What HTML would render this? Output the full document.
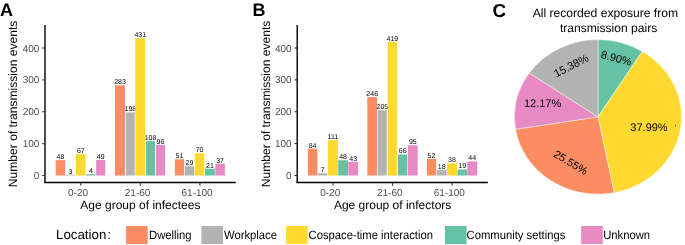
<!DOCTYPE html>
<html><head><meta charset="utf-8"><style>
html,body{margin:0;padding:0;background:#fff;}
body{width:685px;height:245px;overflow:hidden;}
svg{display:block;}
text{font-family:"Liberation Sans", sans-serif;text-rendering:geometricPrecision;}
svg{will-change:transform;}
</style></head><body>
<svg width="685" height="245" viewBox="0 0 685 245">
<rect width="685" height="245" fill="#fff"/>
<rect x="55.70" y="160.20" width="9.40" height="15.30" fill="#FC8D62"/>
<text x="60.40" y="159.20" font-size="7" text-anchor="middle" fill="#000" font-weight="normal" >48</text>
<rect x="65.90" y="174.54" width="9.30" height="0.96" fill="#B3B3B3"/>
<text x="70.55" y="173.54" font-size="7" text-anchor="middle" fill="#000" font-weight="normal" >3</text>
<rect x="76.00" y="154.14" width="9.60" height="21.36" fill="#FFD92F"/>
<text x="80.80" y="153.14" font-size="7" text-anchor="middle" fill="#000" font-weight="normal" >67</text>
<rect x="86.00" y="174.22" width="9.80" height="1.28" fill="#66C2A5"/>
<text x="90.90" y="173.22" font-size="7" text-anchor="middle" fill="#000" font-weight="normal" >4</text>
<rect x="96.20" y="159.88" width="9.10" height="15.62" fill="#E78AC3"/>
<text x="100.75" y="158.88" font-size="7" text-anchor="middle" fill="#000" font-weight="normal" >49</text>
<rect x="115.00" y="85.29" width="9.95" height="90.21" fill="#FC8D62"/>
<text x="119.97" y="84.29" font-size="7" text-anchor="middle" fill="#000" font-weight="normal" >283</text>
<rect x="126.00" y="112.39" width="8.70" height="63.11" fill="#B3B3B3"/>
<text x="130.35" y="111.39" font-size="7" text-anchor="middle" fill="#000" font-weight="normal" >198</text>
<rect x="135.30" y="38.12" width="9.90" height="137.38" fill="#FFD92F"/>
<text x="140.25" y="37.12" font-size="7" text-anchor="middle" fill="#000" font-weight="normal" >431</text>
<rect x="146.00" y="141.07" width="9.00" height="34.43" fill="#66C2A5"/>
<text x="150.50" y="140.07" font-size="7" text-anchor="middle" fill="#000" font-weight="normal" >108</text>
<rect x="155.90" y="144.90" width="9.20" height="30.60" fill="#E78AC3"/>
<text x="160.50" y="143.90" font-size="7" text-anchor="middle" fill="#000" font-weight="normal" >96</text>
<rect x="174.85" y="159.24" width="9.20" height="16.26" fill="#FC8D62"/>
<text x="179.45" y="158.24" font-size="7" text-anchor="middle" fill="#000" font-weight="normal" >51</text>
<rect x="184.80" y="166.26" width="9.30" height="9.24" fill="#B3B3B3"/>
<text x="189.45" y="165.26" font-size="7" text-anchor="middle" fill="#000" font-weight="normal" >29</text>
<rect x="194.80" y="153.19" width="9.50" height="22.31" fill="#FFD92F"/>
<text x="199.55" y="152.19" font-size="7" text-anchor="middle" fill="#000" font-weight="normal" >70</text>
<rect x="205.00" y="168.81" width="9.90" height="6.69" fill="#66C2A5"/>
<text x="209.95" y="167.81" font-size="7" text-anchor="middle" fill="#000" font-weight="normal" >21</text>
<rect x="215.30" y="163.71" width="9.60" height="11.79" fill="#E78AC3"/>
<text x="220.10" y="162.71" font-size="7" text-anchor="middle" fill="#000" font-weight="normal" >37</text>
<line x1="45.00" y1="25.00" x2="45.00" y2="183.10" stroke="#000" stroke-width="1.4"/>
<line x1="44.30" y1="182.50" x2="235.70" y2="182.50" stroke="#000" stroke-width="1.5"/>
<line x1="42.20" y1="175.50" x2="45.00" y2="175.50" stroke="#333" stroke-width="1.07"/>
<text x="39.40" y="179.10" font-size="10" text-anchor="end" fill="#4D4D4D" font-weight="normal" >0</text>
<line x1="42.20" y1="143.62" x2="45.00" y2="143.62" stroke="#333" stroke-width="1.07"/>
<text x="39.40" y="147.22" font-size="10" text-anchor="end" fill="#4D4D4D" font-weight="normal" >100</text>
<line x1="42.20" y1="111.75" x2="45.00" y2="111.75" stroke="#333" stroke-width="1.07"/>
<text x="39.40" y="115.35" font-size="10" text-anchor="end" fill="#4D4D4D" font-weight="normal" >200</text>
<line x1="42.20" y1="79.88" x2="45.00" y2="79.88" stroke="#333" stroke-width="1.07"/>
<text x="39.40" y="83.47" font-size="10" text-anchor="end" fill="#4D4D4D" font-weight="normal" >300</text>
<line x1="42.20" y1="48.00" x2="45.00" y2="48.00" stroke="#333" stroke-width="1.07"/>
<text x="39.40" y="51.60" font-size="10" text-anchor="end" fill="#4D4D4D" font-weight="normal" >400</text>
<line x1="80.80" y1="183.00" x2="80.80" y2="185.70" stroke="#333" stroke-width="1.07"/>
<text x="78.00" y="195.50" font-size="10" text-anchor="middle" fill="#4D4D4D" font-weight="normal" >0-20</text>
<line x1="140.40" y1="183.00" x2="140.40" y2="185.70" stroke="#333" stroke-width="1.07"/>
<text x="137.60" y="195.50" font-size="10" text-anchor="middle" fill="#4D4D4D" font-weight="normal" >21-60</text>
<line x1="199.90" y1="183.00" x2="199.90" y2="185.70" stroke="#333" stroke-width="1.07"/>
<text x="197.10" y="195.50" font-size="10" text-anchor="middle" fill="#4D4D4D" font-weight="normal" >61-100</text>
<text x="140.40" y="209.40" font-size="12" text-anchor="middle" fill="#000" font-weight="normal" >Age group of infectees</text>
<text x="0" y="0" font-size="12.08" text-anchor="middle" fill="#000" transform="translate(16.90,103.9) rotate(-90)">Number of transmission events</text>
<text x="0.00" y="15.60" font-size="18" text-anchor="start" fill="#000" font-weight="bold" >A</text>
<rect x="307.85" y="148.72" width="9.55" height="26.78" fill="#FC8D62"/>
<text x="312.62" y="147.72" font-size="7" text-anchor="middle" fill="#000" font-weight="normal" >84</text>
<rect x="317.90" y="173.27" width="9.50" height="2.23" fill="#B3B3B3"/>
<text x="322.65" y="172.27" font-size="7" text-anchor="middle" fill="#000" font-weight="normal" >7</text>
<rect x="327.90" y="140.12" width="10.00" height="35.38" fill="#FFD92F"/>
<text x="332.90" y="139.12" font-size="7" text-anchor="middle" fill="#000" font-weight="normal" >111</text>
<rect x="338.20" y="160.20" width="9.80" height="15.30" fill="#66C2A5"/>
<text x="343.10" y="159.20" font-size="7" text-anchor="middle" fill="#000" font-weight="normal" >48</text>
<rect x="348.30" y="161.79" width="9.70" height="13.71" fill="#E78AC3"/>
<text x="353.15" y="160.79" font-size="7" text-anchor="middle" fill="#000" font-weight="normal" >43</text>
<rect x="367.30" y="97.09" width="9.80" height="78.41" fill="#FC8D62"/>
<text x="372.20" y="96.09" font-size="7" text-anchor="middle" fill="#000" font-weight="normal" >246</text>
<rect x="377.90" y="110.16" width="8.90" height="65.34" fill="#B3B3B3"/>
<text x="382.35" y="109.16" font-size="7" text-anchor="middle" fill="#000" font-weight="normal" >205</text>
<rect x="387.65" y="41.94" width="9.55" height="133.56" fill="#FFD92F"/>
<text x="392.42" y="40.94" font-size="7" text-anchor="middle" fill="#000" font-weight="normal" >419</text>
<rect x="398.00" y="154.46" width="9.30" height="21.04" fill="#66C2A5"/>
<text x="402.65" y="153.46" font-size="7" text-anchor="middle" fill="#000" font-weight="normal" >66</text>
<rect x="407.90" y="145.22" width="9.80" height="30.28" fill="#E78AC3"/>
<text x="412.80" y="144.22" font-size="7" text-anchor="middle" fill="#000" font-weight="normal" >95</text>
<rect x="426.85" y="158.93" width="9.35" height="16.57" fill="#FC8D62"/>
<text x="431.52" y="157.93" font-size="7" text-anchor="middle" fill="#000" font-weight="normal" >52</text>
<rect x="436.90" y="169.76" width="9.70" height="5.74" fill="#B3B3B3"/>
<text x="441.75" y="168.76" font-size="7" text-anchor="middle" fill="#000" font-weight="normal" >18</text>
<rect x="447.00" y="163.39" width="10.00" height="12.11" fill="#FFD92F"/>
<text x="452.00" y="162.39" font-size="7" text-anchor="middle" fill="#000" font-weight="normal" >38</text>
<rect x="457.45" y="169.44" width="9.65" height="6.06" fill="#66C2A5"/>
<text x="462.27" y="168.44" font-size="7" text-anchor="middle" fill="#000" font-weight="normal" >19</text>
<rect x="467.30" y="161.47" width="9.90" height="14.03" fill="#E78AC3"/>
<text x="472.25" y="160.47" font-size="7" text-anchor="middle" fill="#000" font-weight="normal" >44</text>
<line x1="297.20" y1="25.00" x2="297.20" y2="183.10" stroke="#000" stroke-width="1.4"/>
<line x1="296.50" y1="182.50" x2="487.90" y2="182.50" stroke="#000" stroke-width="1.5"/>
<line x1="294.40" y1="175.50" x2="297.20" y2="175.50" stroke="#333" stroke-width="1.07"/>
<text x="291.60" y="179.10" font-size="10" text-anchor="end" fill="#4D4D4D" font-weight="normal" >0</text>
<line x1="294.40" y1="143.62" x2="297.20" y2="143.62" stroke="#333" stroke-width="1.07"/>
<text x="291.60" y="147.22" font-size="10" text-anchor="end" fill="#4D4D4D" font-weight="normal" >100</text>
<line x1="294.40" y1="111.75" x2="297.20" y2="111.75" stroke="#333" stroke-width="1.07"/>
<text x="291.60" y="115.35" font-size="10" text-anchor="end" fill="#4D4D4D" font-weight="normal" >200</text>
<line x1="294.40" y1="79.88" x2="297.20" y2="79.88" stroke="#333" stroke-width="1.07"/>
<text x="291.60" y="83.47" font-size="10" text-anchor="end" fill="#4D4D4D" font-weight="normal" >300</text>
<line x1="294.40" y1="48.00" x2="297.20" y2="48.00" stroke="#333" stroke-width="1.07"/>
<text x="291.60" y="51.60" font-size="10" text-anchor="end" fill="#4D4D4D" font-weight="normal" >400</text>
<line x1="333.00" y1="183.00" x2="333.00" y2="185.70" stroke="#333" stroke-width="1.07"/>
<text x="330.20" y="195.50" font-size="10" text-anchor="middle" fill="#4D4D4D" font-weight="normal" >0-20</text>
<line x1="392.60" y1="183.00" x2="392.60" y2="185.70" stroke="#333" stroke-width="1.07"/>
<text x="389.80" y="195.50" font-size="10" text-anchor="middle" fill="#4D4D4D" font-weight="normal" >21-60</text>
<line x1="452.10" y1="183.00" x2="452.10" y2="185.70" stroke="#333" stroke-width="1.07"/>
<text x="449.30" y="195.50" font-size="10" text-anchor="middle" fill="#4D4D4D" font-weight="normal" >61-100</text>
<text x="392.60" y="209.40" font-size="12" text-anchor="middle" fill="#000" font-weight="normal" >Age group of infectors</text>
<text x="0" y="0" font-size="12.08" text-anchor="middle" fill="#000" transform="translate(269.50,103.9) rotate(-90)">Number of transmission events</text>
<text x="252.50" y="15.70" font-size="18" text-anchor="start" fill="#000" font-weight="bold" >B</text>
<text x="492.50" y="16.70" font-size="18.8" text-anchor="start" fill="#000" font-weight="bold" >C</text>
<path d="M598.00,116.90 L598.00,39.60 A83.6,77.3 0 0 1 642.35,51.38 Z" fill="#66C2A5" stroke="#fff" stroke-width="0.5"/>
<path d="M598.00,116.90 L642.35,51.38 A83.6,77.3 0 0 1 614.21,192.73 Z" fill="#FFD92F" stroke="#fff" stroke-width="0.5"/>
<path d="M598.00,116.90 L614.21,192.73 A83.6,77.3 0 0 1 515.47,129.25 Z" fill="#FC8D62" stroke="#fff" stroke-width="0.5"/>
<path d="M598.00,116.90 L515.47,129.25 A83.6,77.3 0 0 1 529.21,72.98 Z" fill="#E78AC3" stroke="#fff" stroke-width="0.5"/>
<path d="M598.00,116.90 L529.21,72.98 A83.6,77.3 0 0 1 598.00,39.60 Z" fill="#B3B3B3" stroke="#fff" stroke-width="0.5"/>
<text x="532.70" y="16.70" font-size="12.12" text-anchor="start" fill="#000" font-weight="normal" >All recorded exposure from</text>
<text x="559.90" y="31.70" font-size="12.08" text-anchor="start" fill="#000" font-weight="normal" >transmission pairs</text>
<text x="0" y="0" font-size="11" text-anchor="middle" dominant-baseline="central" fill="#000" transform="translate(616.10,58.90) rotate(15)">8.90%</text>
<text x="0" y="0" font-size="11" text-anchor="middle" dominant-baseline="central" fill="#000" transform="translate(571.50,66.40) rotate(-27)">15.38%</text>
<text x="0" y="0" font-size="11" text-anchor="middle" dominant-baseline="central" fill="#000" transform="translate(542.60,104.00) rotate(0)">12.17%</text>
<text x="0" y="0" font-size="11" text-anchor="middle" dominant-baseline="central" fill="#000" transform="translate(649.00,127.70) rotate(0)">37.99%</text>
<text x="0" y="0" font-size="11" text-anchor="middle" dominant-baseline="central" fill="#000" transform="translate(570.40,163.20) rotate(31)">25.55%</text>
<ellipse cx="675.5" cy="125.7" rx="0.5" ry="0.7" fill="#333"/>
<text x="56.00" y="238.90" font-size="13.3" text-anchor="start" fill="#000" font-weight="normal" >Location</text>
<text x="107.30" y="238.90" font-size="13.3" text-anchor="start" fill="#000" font-weight="normal" >:</text>
<rect x="126.10" y="226.00" width="21.60" height="18.00" fill="#FC8D62"/>
<text x="0" y="0" font-size="12" fill="#000" transform="translate(149.00,239.0) scale(0.938,1)">Dwelling</text>
<rect x="201.40" y="226.00" width="21.60" height="18.00" fill="#B3B3B3"/>
<text x="0" y="0" font-size="12" fill="#000" transform="translate(224.00,239.0) scale(0.938,1)">Workplace</text>
<rect x="286.10" y="226.00" width="21.60" height="18.00" fill="#FFD92F"/>
<text x="0" y="0" font-size="12" fill="#000" transform="translate(308.50,239.0) scale(0.938,1)">Cospace-time interaction</text>
<rect x="445.00" y="226.00" width="21.60" height="18.00" fill="#66C2A5"/>
<text x="0" y="0" font-size="12" fill="#000" transform="translate(466.50,239.0) scale(0.938,1)">Community settings</text>
<rect x="581.20" y="226.00" width="21.60" height="18.00" fill="#E78AC3"/>
<text x="0" y="0" font-size="12" fill="#000" transform="translate(603.20,239.0) scale(0.938,1)">Unknown</text>
</svg>
</body></html>
